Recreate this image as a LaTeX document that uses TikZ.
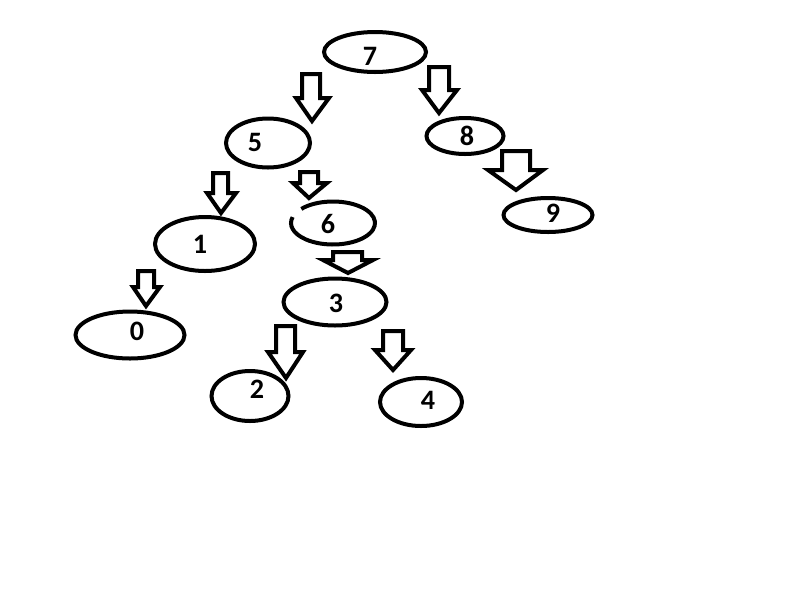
\documentclass[tikz,border=0pt]{standalone}
\usepackage{fontspec}
\setmainfont{Carlito}
\usetikzlibrary{shapes.geometric}

\begin{document}
\begin{tikzpicture}[x=0.025cm,y=-0.025cm,line width=1mm,
    oval/.style={draw, ellipse, inner sep=0pt},
    digit/.style={font=\bfseries\fontsize{20}{22}\selectfont, inner sep=0pt},
    blockarrow/.style={draw, line join=miter}]
    \useasboundingbox (0,0) rectangle (800,600);
    % the ovals and their numbers
    \foreach \n/\cx/\cy/\w/\h/\lx/\ly in {7/375/52/102/40/370/56, 5/268/143/84/49/255/142,
        8/465/136/77/36/467/136, 9/548/215/89/34/553/213,
        1/205/244/100/54/200/244, 3/335/302/103/47/336/303, 0/130/335/109/47/137/331,
        2/250/396/77/50/257/389, 4/421/402/82/48/428/400}
    {
        \node[oval, minimum width=\w*0.025cm, minimum height=\h*0.025cm] (n\n) at (\cx,\cy) {};
        \node[digit] (d\n) at (\lx,\ly) {\n};
    }
    % the oval of 6 is left open at its upper left
    \node[oval, draw=none, minimum width=84*0.025cm, minimum height=43*0.025cm] (n6) at (333,223) {};
    \node[digit] (d6) at (328,224) {6};
    \draw ([shift={(-139:42 and 21.5)}]n6.center) arc[start angle=-139, end angle=196, x radius=42, y radius=21.5];
    % hollow block arrows
    \foreach \a/\b/\c/\d/\e/\f/\g/\h in {302/320/74/296/329/98/312/121,
        429/449/67/422/457/90/439/113, 502/530/151/488/543/170/516/190,
        300/318/172/293/327/183/309/198, 213/228/173/207/236/193/221/213,
        333/362/252/323/373/260/348/273, 138/154/271/133/160/287/146/306,
        276/295/326/268/303/352/286/378, 383/403/331/375/411/350/393/370}
    {
        \draw[blockarrow] (\a,\c) -- (\b,\c) -- (\b,\f) -- (\e,\f) -- (\g,\h)
            -- (\d,\f) -- (\a,\f) -- cycle;
    }
\end{tikzpicture}
\end{document}
